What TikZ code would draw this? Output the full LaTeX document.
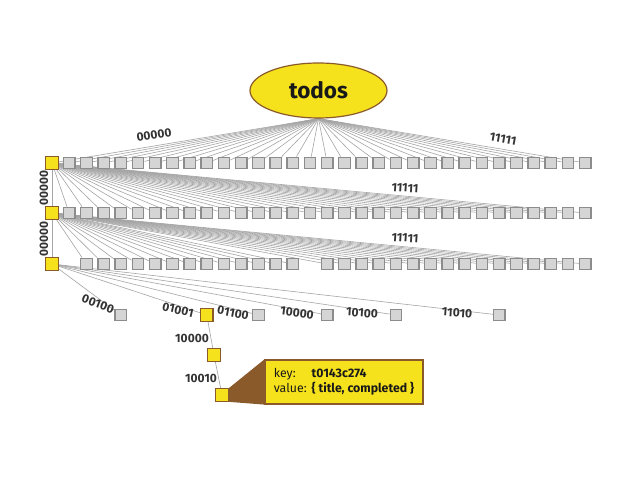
\documentclass[tikz,border=0pt]{standalone}
\usepackage{fontspec}
\setmainfont{Fira Sans}
\usetikzlibrary{backgrounds,shapes.geometric}
\definecolor{tyellow}{HTML}{F6E21C}
\definecolor{tbrown}{HTML}{8B5A2B}
\definecolor{sqgray}{HTML}{D5D5D5}
\definecolor{sqborder}{HTML}{8C8C8C}
\definecolor{linegray}{HTML}{A5A5A5}
\definecolor{lbl}{HTML}{333333}
\begin{document}
\begin{tikzpicture}[x=1pt,y=-1pt,
  graysq/.style={draw=sqborder, fill=sqgray, line width=1.3pt, minimum size=11.5pt, inner sep=0pt},
  yelsq/.style={draw=tbrown, fill=tyellow, line width=1.2pt, minimum size=12.5pt, inner sep=0pt},
  conn/.style={draw=linegray, line width=0.6pt},
  lab/.style={font=\bfseries\fontsize{12}{12}\selectfont, text=lbl, inner sep=0pt},
  rootnode/.style={ellipse, draw=tbrown, fill=tyellow, line width=1.2pt, minimum width=137pt, minimum height=55pt, inner sep=0pt, font=\bfseries\fontsize{22.5}{24}\selectfont, text=black!90},
  keybox/.style={draw=tbrown, fill=tyellow, line width=1.2pt, minimum width=158pt, minimum height=44pt, inner sep=0pt, font=\fontsize{12.3}{15.5}\selectfont, text=black!90},
]
\useasboundingbox (0,0) rectangle (638,479);

% root
\node[rootnode] (todos) at (318.5,90.5) {todos};

% row a (level 1)
\node[yelsq] (a0) at (52,163) {};
\foreach \i in {1,...,31}{
  \pgfmathsetmacro\xx{52+17.2*\i}
  \node[graysq] (a\i) at (\xx,163) {};
}
% row b (level 2)
\node[yelsq] (b0) at (52,213) {};
\foreach \i in {1,...,31}{
  \pgfmathsetmacro\xx{52+17.2*\i}
  \node[graysq] (b\i) at (\xx,213) {};
}
% row c (level 3)
\node[yelsq] (c0) at (52,264) {};
\foreach \i in {2,...,14,16,17,...,31}{
  \pgfmathsetmacro\xx{52+17.2*\i}
  \node[graysq] (c\i) at (\xx,264) {};
}
% row d (level 4)
\foreach \i in {4,12,16,20,26}{
  \pgfmathsetmacro\xx{52+17.2*\i}
  \node[graysq] (d\i) at (\xx,315) {};
}
\node[yelsq] (d9) at (206.8,315) {};
% level 5 and 6
\node[yelsq] (e1) at (214,355) {};
\node[yelsq] (e2) at (222,395) {};

% key/value box
\node[keybox] (kv) at (344,382) {\begin{tabular}{@{}l@{\hspace{5pt}}l@{}}key: & \textbf{t0143c274}\\ value: & \textbf{\{ title, completed \}}\end{tabular}};

% labels
\node[lab, rotate=9] (l1a) at (154,135) {00000};
\node[lab, rotate=-10] (l1b) at (503,139) {11111};
\node[lab, rotate=-90] (l2a) at (44,188) {00000};
\node[lab, rotate=-4] (l2b) at (405,188) {11111};
\node[lab, rotate=-90] (l3a) at (44,239) {00000};
\node[lab, rotate=-4] (l3b) at (405,238) {11111};
\node[lab, rotate=-21] (l4a) at (98,304) {00100};
\node[lab, rotate=-13] (l4b) at (178,310) {01001};
\node[lab, rotate=-11] (l4c) at (233,313) {01100};
\node[lab, rotate=-7] (l4d) at (297,313) {10000};
\node[lab, rotate=-4] (l4e) at (362,313) {10100};
\node[lab, rotate=-4] (l4f) at (457,313) {11010};
\node[lab] (l5) at (192,338) {10000};
\node[lab] (l6) at (201,378) {10010};

\begin{scope}[on background layer]
  \fill[white] (0,0) rectangle (638,479);
  \foreach \i in {0,...,31}{ \draw[conn] (todos.south) -- (a\i); }
  \foreach \i in {0,...,31}{ \draw[conn] (a0) -- (b\i); }
  \foreach \i in {0,2,3,...,14,16,17,...,31}{ \draw[conn] (b0) -- (c\i); }
  \foreach \i in {4,9,12,16,20,26}{ \draw[conn] (c0) -- (d\i); }
  \draw[conn] (d9) -- (e1);
  \draw[conn] (e1) -- (e2);
  \fill[tbrown] (e2.north east) -- (kv.north west) -- (kv.south west) -- (e2.south east) -- cycle;
\end{scope}
\end{tikzpicture}
\end{document}
